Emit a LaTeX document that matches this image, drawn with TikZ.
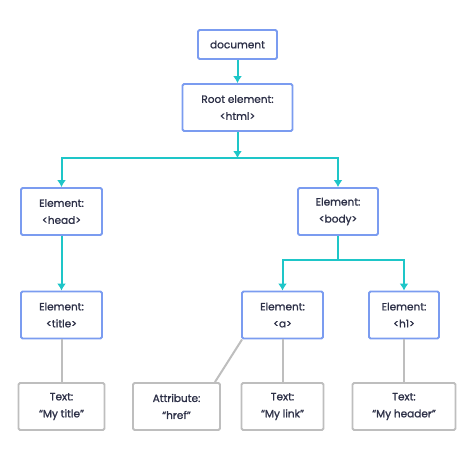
\documentclass[tikz,border=0pt]{standalone}
\usepackage{fontspec}
\setmainfont{Poppins}[FakeBold=1.2]
\usetikzlibrary{arrows.meta}
\definecolor{elblue}{HTML}{7B9CF0}
\definecolor{linkcyan}{HTML}{1EC6C8}
\definecolor{leafgray}{HTML}{BEBEBE}
\definecolor{inkdark}{HTML}{2D3047}

\begin{document}
\begin{tikzpicture}[x=1pt,y=-1pt,inner sep=2pt,>={Latex[width=9pt,length=7pt]},
  every node/.style={font=\fontsize{10.5}{17}\selectfont,text=inkdark,align=center},
  elem/.style={draw=elblue,line width=1.9pt,rounded corners=1.5pt,fill=white,minimum height=47pt},
  leaf/.style={draw=leafgray,line width=1.9pt,rounded corners=1.5pt,fill=white,minimum height=47pt},
  tie/.style={draw=linkcyan,line width=2pt,->},
  stem/.style={draw=leafgray,line width=2pt}]
\useasboundingbox (0,0) rectangle (474,460);
% element nodes
\node [elem,minimum width=79pt,minimum height=29pt] (Doc) at (237.5,44.5) {document};
\node [elem,minimum width=110pt] (Root)  at (237.5,107.5) {Root element:\\<html>};
\node [elem,minimum width=81pt]  (Head)  at (61.5,211.5)  {Element:\\<head>};
\node [elem,minimum width=80pt]  (Body)  at (338,211.5)   {Element:\\<body>};
\node [elem,minimum width=81pt]  (Title) at (61.5,315)    {Element:\\<title>};
\node [elem,minimum width=81pt]  (A)     at (282.5,315)   {Element:\\<a>};
\node [elem,minimum width=70pt]  (Hone)  at (404,315)     {Element:\\<h1>};
% leaves
\node [leaf,minimum width=86pt]  (MyTitle)  at (61.5,406.5)  {Text:\\“My title”};
\node [leaf,minimum width=87pt]  (Href)     at (176.5,406.5) {Attribute:\\“href”};
\node [leaf,minimum width=82pt]  (MyLink)   at (282.5,406.5) {Text:\\“My link”};
\node [leaf,minimum width=103pt] (MyHeader) at (404,406.5)   {Text:\\“My header”};
\coordinate (RootFork) at (237.5,158);
\coordinate (BodyFork) at (338,260);
% connectors
\draw [tie] (Doc) -- (Root);
\draw [tie] (Root) -- (RootFork);
\draw [tie] (RootFork) -| (Head);
\draw [tie] (RootFork) -| (Body);
\draw [tie] (Head) -- (Title);
\draw [tie,-] (Body) -- (BodyFork);
\draw [tie] (BodyFork) -| (A);
\draw [tie] (BodyFork) -| (Hone);
\draw [stem] (Title) -- (MyTitle);
\draw [stem] (A) -- (MyLink);
\draw [stem] (Hone) -- (MyHeader);
\draw [stem] ([xshift=1pt]A.south west) -- ([xshift=-6pt]Href.north east);
\end{tikzpicture}
\end{document}
